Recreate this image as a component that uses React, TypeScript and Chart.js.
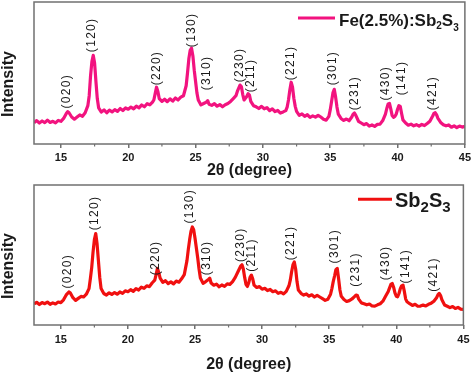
import React, { useEffect, useRef } from 'react';
import { Chart, registerables } from 'chart.js';

Chart.register(...registerables);

const X_MIN = 13;
const X_MAX = 45;
const majorTicks = [15, 20, 25, 30, 35, 40, 45];
const minorTicks = [17.5, 22.5, 27.5, 32.5, 37.5, 42.5];

const hklLabels = ['(020)', '(120)', '(220)', '(130)', '(310)', '(230)', '(211)', '(221)', '(301)', '(231)', '(430)', '(141)', '(421)'];

// label anchor (peak angle, intensity at label base)
const feLabelX = [15.4, 17.3, 22.1, 24.7, 25.8, 28.3, 29.1, 32.1, 35.2, 36.8, 39.1, 40.3, 42.6];
const feLabelY = [25, 64.7, 41.3, 68.2, 37.8, 43.5, 36.4, 44.9, 41.3, 23.7, 30.7, 34.3, 23.7];
const sbLabelX = [15.5, 17.5, 22.1, 24.6, 25.9, 28.4, 29.25, 32.1, 35.4, 37.0, 39.2, 40.7, 42.8];
const sbLabelY = [26.1, 67.7, 35.6, 72.5, 35.6, 45, 38, 46.3, 44, 27.3, 32, 29.7, 23.7];

const feSeries: [number, number][] = [
  [13.0, 15.0], [13.2, 16.5], [13.4, 14.8], [13.6, 16.2], [13.8, 15.0], [14.0, 16.8], [14.2, 15.2], [14.4, 16.0],
  [14.6, 14.9], [14.8, 16.6], [15.0, 16.0], [15.2, 18.0], [15.4, 21.5], [15.5, 22.8], [15.6, 22.0], [15.8, 19.0],
  [16.0, 17.5], [16.2, 19.0], [16.4, 20.5], [16.6, 19.5], [16.8, 22.0], [17.0, 27.0], [17.1, 34.0], [17.2, 48.0],
  [17.3, 58.0], [17.4, 62.5], [17.5, 57.0], [17.6, 44.0], [17.7, 32.0], [17.8, 25.5], [18.0, 22.5], [18.2, 24.0],
  [18.4, 22.0], [18.6, 23.8], [18.8, 22.6], [19.0, 24.2], [19.2, 23.0], [19.4, 25.0], [19.6, 23.6], [19.8, 25.4],
  [20.0, 24.5], [20.2, 26.0], [20.4, 24.8], [20.6, 26.6], [20.8, 25.5], [21.0, 27.5], [21.2, 26.2], [21.4, 28.4],
  [21.6, 27.6], [21.8, 29.5], [21.9, 31.0], [22.0, 35.5], [22.1, 40.0], [22.2, 37.0], [22.3, 32.0], [22.5, 30.0],
  [22.7, 31.5], [22.9, 29.8], [23.1, 31.8], [23.3, 30.2], [23.5, 32.4], [23.7, 31.0], [23.9, 33.0], [24.1, 34.0],
  [24.3, 41.0], [24.4, 50.0], [24.5, 60.0], [24.6, 66.0], [24.7, 67.5], [24.8, 62.0], [24.9, 52.0], [25.0, 44.0],
  [25.1, 36.0], [25.2, 31.0], [25.4, 27.5], [25.6, 28.5], [25.8, 29.5], [25.9, 30.5], [26.0, 28.0], [26.2, 27.2],
  [26.4, 28.4], [26.6, 26.6], [26.8, 27.8], [27.0, 26.2], [27.2, 27.6], [27.4, 28.5], [27.6, 30.0], [27.8, 32.0],
  [28.0, 34.0], [28.1, 37.0], [28.3, 41.5], [28.4, 40.5], [28.5, 35.0], [28.6, 31.0], [28.8, 33.5], [28.9, 35.5],
  [29.0, 34.5], [29.1, 30.0], [29.3, 27.0], [29.5, 26.2], [29.7, 25.0], [29.9, 26.5], [30.1, 24.8], [30.3, 25.6],
  [30.5, 23.5], [30.7, 24.8], [30.9, 22.8], [31.1, 23.6], [31.3, 21.8], [31.5, 22.6], [31.7, 23.5], [31.8, 26.0],
  [31.9, 31.0], [32.0, 38.0], [32.1, 43.5], [32.2, 40.0], [32.3, 32.0], [32.4, 26.5], [32.5, 23.0], [32.7, 20.2],
  [32.9, 21.2], [33.1, 19.5], [33.3, 20.6], [33.5, 18.8], [33.7, 19.8], [33.9, 18.9], [34.1, 20.2], [34.3, 19.0],
  [34.5, 17.5], [34.7, 16.8], [34.9, 19.5], [35.0, 24.0], [35.1, 30.0], [35.2, 36.0], [35.3, 38.5], [35.4, 33.0],
  [35.5, 26.0], [35.6, 21.0], [35.8, 18.0], [36.0, 16.6], [36.2, 17.6], [36.4, 16.4], [36.6, 19.0], [36.7, 21.0],
  [36.8, 21.8], [36.9, 20.2], [37.1, 16.0], [37.3, 14.8], [37.5, 13.6], [37.7, 14.4], [37.9, 12.6], [38.1, 13.4],
  [38.3, 12.4], [38.5, 13.8], [38.7, 14.0], [38.9, 16.5], [39.1, 21.0], [39.2, 25.0], [39.3, 28.2], [39.4, 28.6],
  [39.5, 24.5], [39.6, 20.0], [39.7, 18.8], [39.8, 19.4], [39.9, 21.0], [40.0, 24.5], [40.1, 27.0], [40.2, 26.5],
  [40.3, 21.5], [40.4, 17.0], [40.6, 14.8], [40.8, 13.2], [41.0, 14.0], [41.2, 12.8], [41.4, 13.6], [41.6, 12.6],
  [41.8, 13.8], [42.0, 13.0], [42.2, 14.4], [42.4, 16.0], [42.6, 19.5], [42.7, 21.5], [42.8, 22.0], [42.9, 20.5],
  [43.0, 18.0], [43.2, 15.2], [43.4, 13.6], [43.6, 12.8], [43.8, 13.4], [44.0, 11.8], [44.2, 12.8], [44.4, 11.6],
  [44.6, 12.6], [44.8, 11.9], [45.0, 12.4],
];

const sbSeries: [number, number][] = [
  [13.0, 15.0], [13.2, 16.2], [13.4, 14.6], [13.6, 16.0], [13.8, 15.2], [14.0, 16.4], [14.2, 14.8], [14.4, 15.8],
  [14.6, 15.0], [14.8, 16.4], [15.0, 16.0], [15.2, 18.0], [15.4, 21.5], [15.6, 23.6], [15.7, 23.0], [15.9, 19.5],
  [16.1, 17.6], [16.3, 19.0], [16.5, 20.4], [16.7, 20.0], [16.9, 22.0], [17.1, 26.0], [17.2, 33.0], [17.3, 41.0],
  [17.4, 52.0], [17.5, 61.0], [17.6, 65.3], [17.7, 58.0], [17.8, 46.0], [17.9, 34.0], [18.0, 26.0], [18.2, 22.5],
  [18.4, 21.4], [18.6, 23.0], [18.8, 21.8], [19.0, 23.2], [19.2, 22.0], [19.4, 23.6], [19.6, 22.6], [19.8, 24.4],
  [20.0, 23.8], [20.2, 25.2], [20.4, 24.0], [20.6, 26.0], [20.8, 25.0], [21.0, 27.0], [21.2, 26.2], [21.4, 28.0],
  [21.6, 27.4], [21.8, 30.0], [22.0, 32.0], [22.1, 36.0], [22.2, 40.4], [22.3, 37.5], [22.4, 33.5], [22.6, 30.5],
  [22.8, 31.6], [23.0, 29.6], [23.2, 30.8], [23.4, 29.4], [23.6, 31.4], [23.8, 30.6], [24.0, 33.0], [24.2, 36.0],
  [24.4, 46.0], [24.5, 54.0], [24.6, 61.0], [24.7, 67.0], [24.8, 70.0], [24.9, 68.0], [25.0, 62.0], [25.1, 55.0],
  [25.2, 48.0], [25.3, 40.0], [25.4, 33.5], [25.6, 29.8], [25.8, 31.0], [26.0, 32.5], [26.1, 33.4], [26.2, 30.0],
  [26.4, 28.4], [26.6, 29.2], [26.8, 27.3], [27.0, 28.6], [27.2, 27.6], [27.4, 29.4], [27.6, 29.0], [27.8, 31.0],
  [28.0, 34.0], [28.2, 38.0], [28.4, 42.0], [28.5, 43.0], [28.6, 40.0], [28.7, 34.0], [28.8, 29.0], [28.9, 27.5],
  [29.0, 30.0], [29.1, 34.0], [29.2, 35.6], [29.3, 33.0], [29.4, 28.5], [29.6, 26.8], [29.8, 27.4], [30.0, 25.6],
  [30.2, 26.2], [30.4, 24.6], [30.6, 25.4], [30.8, 23.8], [31.0, 24.4], [31.2, 22.6], [31.4, 23.4], [31.6, 22.2],
  [31.8, 24.0], [32.0, 28.0], [32.1, 32.0], [32.2, 38.0], [32.3, 43.0], [32.4, 45.0], [32.5, 40.0], [32.6, 31.0],
  [32.7, 25.0], [32.9, 22.6], [33.1, 21.4], [33.3, 22.2], [33.5, 20.6], [33.7, 21.6], [33.9, 20.0], [34.1, 21.2],
  [34.3, 20.0], [34.5, 18.8], [34.7, 17.6], [34.9, 18.4], [35.1, 22.0], [35.2, 26.0], [35.3, 31.0], [35.4, 35.0],
  [35.5, 39.5], [35.6, 40.4], [35.7, 33.0], [35.8, 25.0], [35.9, 20.5], [36.1, 18.2], [36.3, 16.8], [36.5, 17.4],
  [36.7, 18.6], [36.9, 20.4], [37.0, 21.4], [37.1, 21.0], [37.2, 18.5], [37.4, 15.8], [37.6, 15.2], [37.8, 14.4],
  [38.0, 15.0], [38.2, 13.6], [38.4, 13.5], [38.6, 14.4], [38.8, 15.2], [39.0, 17.0], [39.2, 20.5], [39.4, 24.0],
  [39.5, 26.5], [39.6, 29.0], [39.7, 29.7], [39.8, 27.0], [39.9, 23.0], [40.0, 20.6], [40.1, 20.2], [40.2, 22.5],
  [40.3, 26.0], [40.4, 28.0], [40.5, 28.5], [40.6, 24.0], [40.7, 18.5], [40.8, 16.6], [41.0, 15.2], [41.2, 14.0],
  [41.4, 14.8], [41.6, 13.4], [41.8, 13.5], [42.0, 14.2], [42.2, 13.6], [42.4, 14.8], [42.6, 15.6], [42.8, 17.0],
  [43.0, 19.5], [43.1, 21.5], [43.2, 22.6], [43.3, 21.0], [43.4, 18.0], [43.6, 14.3], [43.8, 13.4], [44.0, 12.4],
  [44.2, 13.2], [44.4, 11.8], [44.6, 12.6], [44.8, 11.4], [45.0, 11.2],
];

const FONT = '"Liberation Sans", Arial, Helvetica, sans-serif';
const FRAME = '#707070';
const TEXT = '#1a1a1a';

type LegendPart = { t: string; size: number; dy: number };

type PanelCfg = {
  top: number;
  height: number;
  padTop: number;
  xAxisH: number;
  tickPad: number;
  series: [number, number][];
  color: string;
  labelX: number[];
  labelY: number[];
  legendLine: [number, number, number];
  legendTextX: number;
  legendBase: number;
  legendParts: LegendPart[];
  xTitleY: number;
  yTitleDy: number;
};

const panels: PanelCfg[] = [
  {
    top: 0, height: 180, padTop: 2, xAxisH: 36, tickPad: 3,
    series: feSeries, color: '#F2137F', labelX: feLabelX, labelY: feLabelY,
    legendLine: [298, 335, 18], legendTextX: 339, legendBase: 25.5,
    legendParts: [
      { t: 'Fe(2.5%):Sb', size: 17, dy: 0 },
      { t: '2', size: 10, dy: 3 },
      { t: 'S', size: 17, dy: 0 },
      { t: '3', size: 10, dy: 5 },
    ],
    xTitleY: 170.7, yTitleDy: 11,
  },
  {
    top: 180, height: 195, padTop: 5, xAxisH: 50, tickPad: 4.5,
    series: sbSeries, color: '#F01010', labelX: sbLabelX, labelY: sbLabelY,
    legendLine: [358, 392, 19.3], legendTextX: 395, legendBase: 26.7,
    legendParts: [
      { t: 'Sb', size: 20, dy: 0 },
      { t: '2', size: 15, dy: 5 },
      { t: 'S', size: 20, dy: 0 },
      { t: '3', size: 15, dy: 5 },
    ],
    xTitleY: 185, yTitleDy: 11,
  },
];

function Panel({ cfg }: { cfg: PanelCfg }) {
  const ref = useRef<HTMLCanvasElement>(null);
  useEffect(() => {
    const decor = {
      id: 'decor',
      afterDraw(chart: any) {
        const { ctx, chartArea } = chart;
        const xs = chart.scales.x;
        const ys = chart.scales.y;
        const { left, right, top, bottom } = chartArea;
        ctx.save();
        // frame
        ctx.strokeStyle = FRAME;
        ctx.lineWidth = 1.5;
        ctx.strokeRect(left, top, right - left, bottom - top);
        // minor ticks
        ctx.lineWidth = 1.2;
        for (const v of minorTicks) {
          const px = xs.getPixelForValue(v);
          ctx.beginPath();
          ctx.moveTo(px, bottom);
          ctx.lineTo(px, bottom + 2.5);
          ctx.stroke();
        }
        // peak labels
        ctx.fillStyle = TEXT;
        ctx.font = `12px ${FONT}`;
        (ctx as any).letterSpacing = '1.3px';
        ctx.textAlign = 'left';
        ctx.textBaseline = 'middle';
        hklLabels.forEach((lab, i) => {
          const px = xs.getPixelForValue(cfg.labelX[i]);
          const py = ys.getPixelForValue(cfg.labelY[i]);
          ctx.save();
          ctx.translate(px, py);
          ctx.rotate(-Math.PI / 2);
          ctx.fillText(lab, 0, 0);
          ctx.restore();
        });
        (ctx as any).letterSpacing = '0px';
        // legend
        const [lx0, lx1, ly] = cfg.legendLine;
        ctx.strokeStyle = cfg.color;
        ctx.lineWidth = 3;
        ctx.beginPath();
        ctx.moveTo(lx0, ly);
        ctx.lineTo(lx1, ly);
        ctx.stroke();
        ctx.textBaseline = 'alphabetic';
        ctx.fillStyle = TEXT;
        let tx = cfg.legendTextX;
        for (const p of cfg.legendParts) {
          ctx.font = `bold ${p.size}px ${FONT}`;
          ctx.fillText(p.t, tx, cfg.legendBase + p.dy);
          tx += ctx.measureText(p.t).width;
        }
        // x title
        ctx.font = `bold 16px ${FONT}`;
        ctx.textAlign = 'center';
        ctx.textBaseline = 'middle';
        ctx.fillText('2θ (degree)', (left + right) / 2, cfg.xTitleY);
        // y title
        ctx.save();
        ctx.translate(9, (top + bottom) / 2 + cfg.yTitleDy);
        ctx.rotate(-Math.PI / 2);
        ctx.fillText('Intensity', 0, 0);
        ctx.restore();
        ctx.restore();
      },
    };

    const chart = new Chart(ref.current!, {
      type: 'line',
      data: {
        datasets: [
          {
            data: cfg.series.map(([x, y]) => ({ x, y })),
            borderColor: cfg.color,
            borderWidth: 3.2,
            borderJoinStyle: 'round',
            pointRadius: 0,
            fill: false,
            tension: 0,
          },
        ],
      },
      options: {
        responsive: false,
        animation: false,
        events: [],
        layout: { padding: { top: cfg.padTop, right: 8, left: 0, bottom: 0 } },
        plugins: { legend: { display: false }, tooltip: { enabled: false } },
        scales: {
          x: {
            type: 'linear',
            min: X_MIN,
            max: X_MAX,
            afterBuildTicks: (s: any) => {
              s.ticks = majorTicks.map((v) => ({ value: v }));
            },
            afterFit: (s: any) => {
              s.height = cfg.xAxisH;
            },
            ticks: {
              font: { family: FONT, size: 11, weight: 'bold' },
              color: TEXT,
              padding: cfg.tickPad,
              maxRotation: 0,
              autoSkip: false,
            },
            grid: {
              display: true,
              drawOnChartArea: false,
              drawTicks: true,
              tickLength: 4,
              color: FRAME,
              lineWidth: 1.5,
            },
            border: { display: false },
          },
          y: {
            min: 0,
            max: 100,
            ticks: { display: false },
            grid: { display: false },
            border: { display: false },
            afterFit: (s: any) => {
              s.width = 34;
            },
          },
        },
      } as any,
      plugins: [decor],
    });
    return () => chart.destroy();
  }, []);
  return (
    <canvas
      ref={ref}
      width={474}
      height={cfg.height}
      style={{ display: 'block', position: 'absolute', left: 0, top: cfg.top }}
    />
  );
}

export default function App() {
  return (
    <div style={{ position: 'absolute', left: 0, top: 0, width: 474, height: 375, background: '#fff' }}>
      {panels.map((p, i) => (
        <Panel key={i} cfg={p} />
      ))}
    </div>
  );
}
